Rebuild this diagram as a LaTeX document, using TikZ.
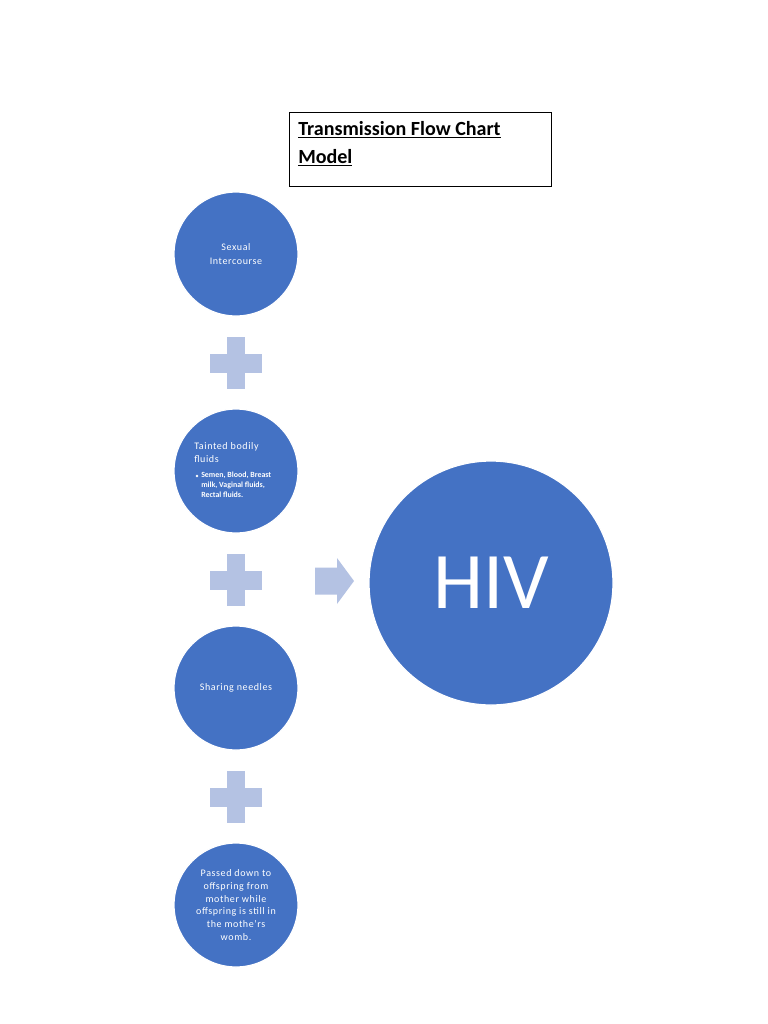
\documentclass[tikz,border=0pt]{standalone}
\usepackage{fontspec}
\setmainfont{Carlito}
\definecolor{circblue}{HTML}{4472C4}
\definecolor{lightblue}{HTML}{B4C2E3}
\begin{document}
\begin{tikzpicture}[x=0.797pt,y=-0.797pt,
  circ/.style={circle,fill=circblue,draw=white,line width=1pt,minimum size=124*0.797pt,inner sep=0pt,text=white},
  small/.style={font=\fontsize{8}{11}\selectfont\addfontfeatures{LetterSpace=6}},
  plussign/.pic={\fill[lightblue] (-26,-9.5) rectangle (26,9.5); \fill[lightblue] (-9,-26) rectangle (9,26);},
  rarrow/.pic={\fill[lightblue] (-19,-13.5) -- (3,-13.5) -- (3,-23) -- (20,0) -- (3,23) -- (3,13.5) -- (-19,13.5) -- cycle;}
]
\useasboundingbox (0,0) rectangle (768,1024);
\fill[white] (0,0) rectangle (768,1024);
% title
\node[draw=black,line width=0.8pt,minimum width=262*0.797pt,minimum height=74*0.797pt,inner sep=0pt] (title) at (420,149) {};
\node[anchor=north west,align=left,inner sep=0pt,font=\fontsize{16}{22.3}\selectfont\bfseries] (titletext) at (298,121.5) {\underline{Transmission Flow Chart}\\\underline{Model}};
% circles
\node[circ,small,align=center] (c1) at (236,254) {Sexual\\Intercourse};
\node[circ] (c2) at (236,471) {};
\node[anchor=north west,inner sep=0pt,align=left,text=white,font=\fontsize{8}{10.4}\selectfont\addfontfeatures{LetterSpace=6}] (c2t) at (194,442) {Tainted bodily\\fluids};
\node[anchor=north west,inner sep=0pt,align=left,text=white,font=\fontsize{6.3}{8}\selectfont\bfseries] (c2b) at (201,472) {Semen, Blood, Breast\\milk, Vaginal fluids,\\Rectal fluids.};
\fill[white] (197,476) circle (1.3);
\node[circ,small] (c3) at (236,688) {Sharing needles};
\node[circ,align=center,text=white,font=\fontsize{8}{10.2}\selectfont\addfontfeatures{LetterSpace=6}] (c4) at (236,905) {Passed down to\\offspring from\\mother while\\offspring is still in\\the mothe'rs\\womb.};
\node[circle,fill=circblue,draw=white,line width=1pt,minimum size=244*0.797pt,inner sep=0pt,text=white,font=\fontsize{64}{64}\selectfont] (hiv) at (491,583) {HIV};
% plus signs and arrow
\pic at (236,363) {plussign};
\pic at (236,580) {plussign};
\pic at (236,797) {plussign};
\pic at (334,581) {rarrow};
\end{tikzpicture}
\end{document}
